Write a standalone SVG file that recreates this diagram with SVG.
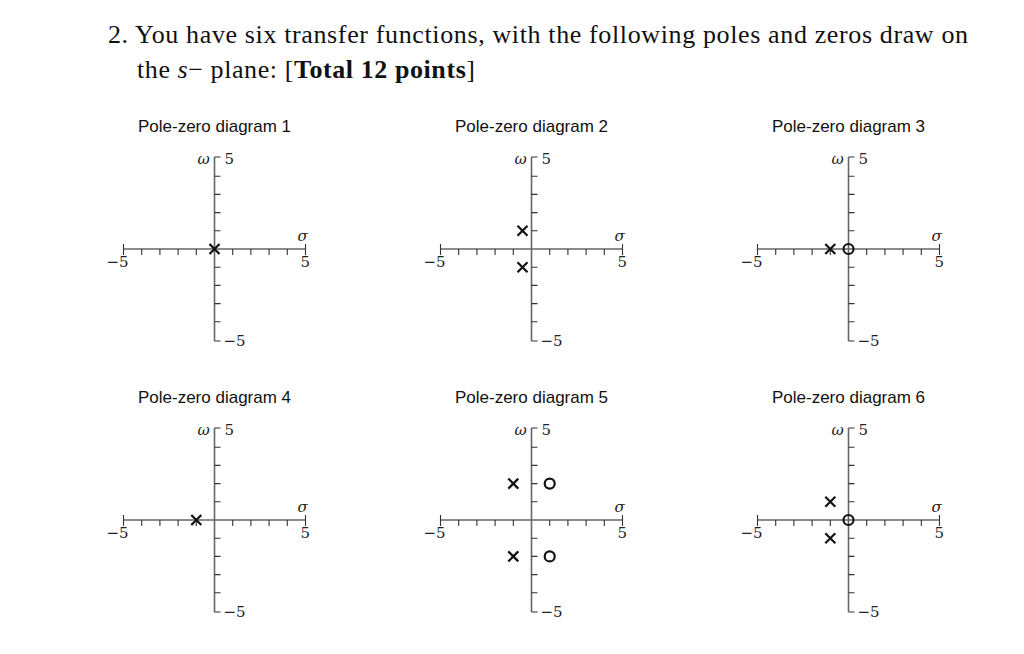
<svg xmlns="http://www.w3.org/2000/svg" width="1024" height="654" viewBox="0 0 1024 654">
<style>
.h{font-family:"Liberation Serif",serif;font-size:26px;fill:#111}
.t{font-family:"Liberation Sans",Arial,sans-serif;font-size:17px;fill:#111;text-anchor:middle}
.n{font-family:"DejaVu Serif",serif;font-size:15px;fill:#222}
.ax{stroke:#666;stroke-width:1.6;fill:none}
.tk{stroke:#333;stroke-width:1.1}
.p{stroke:#111;stroke-width:2.2;fill:none}
</style>
<defs>
<g id="axes">
<line class="ax" x1="-91" y1="0" x2="91" y2="0"/>
<line class="ax" x1="0" y1="-92" x2="0" y2="92"/>
<path class="tk" d="M-91,-5V6M-72.8,0v6M-54.6,0v6M-36.4,0v6M-18.2,0v6M18.2,0v6M36.4,0v6M54.6,0v6M72.8,0v6M91,-5V6"/>
<path class="tk" d="M0,-92h6M0,-72.8h6M0,-54.6h6M0,-36.4h6M0,-18.2h6M0,18.2h6M0,36.4h6M0,54.6h6M0,72.8h6M0,92h6"/>
<text class="n" x="-17" y="-85" font-style="italic">ω</text>
<text class="n" x="10" y="-85">5</text>
<text class="n" x="9" y="97">−5</text>
<text class="n" x="83" y="-8" font-style="italic">σ</text>
<text class="n" x="-108" y="18">−5</text>
<text class="n" x="86" y="18">5</text>
</g>
<path id="x" class="p" d="M-5,-5L5,5M-5,5L5,-5"/>
<circle id="o" class="p" r="5"/>
</defs>
<text class="h" x="108" y="43" textLength="860" lengthAdjust="spacing">2. You have six transfer functions, with the following poles and zeros draw on</text>
<text class="h" x="137" y="78" textLength="338" lengthAdjust="spacing">the <tspan font-style="italic">s</tspan>− plane: [<tspan font-weight="bold">Total 12 points</tspan>]</text>
<g id="d1" transform="translate(214.5,249)">
<text class="t" x="0" y="-117">Pole-zero diagram 1</text>
<use href="#axes"/><use href="#x"/>
</g>
<g id="d2" transform="translate(531.5,249)">
<text class="t" x="0" y="-117">Pole-zero diagram 2</text>
<use href="#axes"/><use href="#x" x="-9" y="-18.2"/><use href="#x" x="-9" y="18.2"/>
</g>
<g id="d3" transform="translate(848.5,249)">
<text class="t" x="0" y="-117">Pole-zero diagram 3</text>
<use href="#axes"/><use href="#x" x="-18.2"/><use href="#o"/>
</g>
<g id="d4" transform="translate(214.5,520)">
<text class="t" x="0" y="-117">Pole-zero diagram 4</text>
<use href="#axes"/><use href="#x" x="-18.2"/>
</g>
<g id="d5" transform="translate(531.5,520)">
<text class="t" x="0" y="-117">Pole-zero diagram 5</text>
<use href="#axes"/><use href="#x" x="-18.2" y="-36.4"/><use href="#x" x="-18.2" y="36.4"/><use href="#o" x="18.2" y="-36.4"/><use href="#o" x="18.2" y="36.4"/>
</g>
<g id="d6" transform="translate(848.5,520)">
<text class="t" x="0" y="-117">Pole-zero diagram 6</text>
<use href="#axes"/><use href="#x" x="-18.2" y="-18.2"/><use href="#x" x="-18.2" y="18.2"/><use href="#o"/>
</g>
</svg>
